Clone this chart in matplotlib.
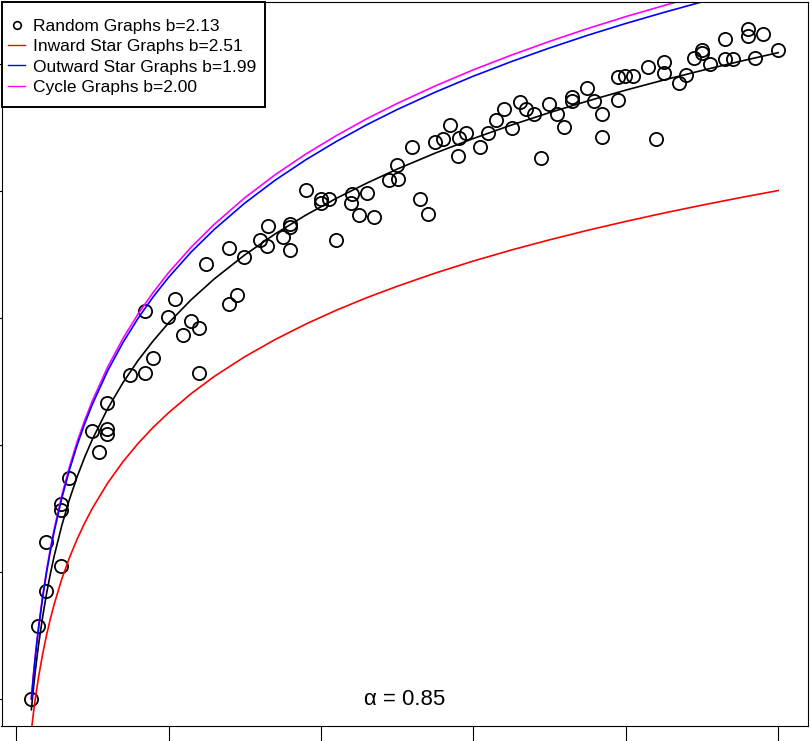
import numpy as np
import matplotlib
matplotlib.use('Agg')
import matplotlib.pyplot as plt
from matplotlib.lines import Line2D
from matplotlib.patches import Rectangle

plt.rcParams['font.family'] = ['Liberation Sans', 'DejaVu Sans']

rand_x = [2.0, 2.88, 3.93, 3.93, 5.9, 5.9, 5.9, 6.95, 10.88, 9.96,
          11.93, 11.93, 11.93, 14.94, 16.91, 23.98, 17.96, 21.89, 23.98, 22.94,
          19.92, 16.91, 20.84, 27.92, 28.96, 24.9, 29.88, 27.92, 32.9, 31.98,
          33.03, 35.0, 35.91, 35.91, 35.91, 38.01, 39.97, 41.02, 39.97, 41.94,
          44.04, 43.91, 46.0, 44.95, 46.92, 48.89, 50.07, 49.93, 51.9, 52.95,
          54.0, 54.91, 55.96, 56.88, 58.06, 57.93, 58.98, 60.94, 61.99, 62.91,
          63.96, 65.01, 66.06, 66.97, 68.02, 68.94, 69.99, 71.04, 71.95, 73.0,
          73.0, 74.97, 75.88, 76.93, 76.93, 79.03, 79.03, 79.95, 81.0, 82.96,
          84.01, 85.06, 85.06, 87.02, 87.94, 88.99, 90.04, 90.04, 91.09, 93.05,
          93.05, 94.1, 96.07, 96.07, 96.99, 98.03, 100.0]
rand_y = [1.0, 1.58, 1.85, 2.24, 2.05, 2.49, 2.54, 2.74, 2.95, 3.11,
          3.13, 3.09, 3.33, 3.55, 3.57, 3.57, 3.69, 3.87, 3.92, 3.98,
          4.01, 4.06, 4.15, 4.11, 4.18, 4.43, 4.48, 4.55, 4.57, 4.62,
          4.73, 4.64, 4.74, 4.72, 4.54, 5.01, 4.94, 4.94, 4.91, 4.62,
          4.98, 4.91, 4.99, 4.81, 4.8, 5.09, 5.1, 5.21, 5.35, 4.94,
          4.82, 5.39, 5.41, 5.52, 5.42, 5.28, 5.46, 5.35, 5.46, 5.56,
          5.65, 5.5, 5.7, 5.65, 5.61, 5.26, 5.69, 5.61, 5.51, 5.74,
          5.71, 5.81, 5.71, 5.61, 5.43, 5.72, 5.9, 5.91, 5.91, 5.98,
          5.41, 6.02, 5.93, 5.85, 5.92, 6.05, 6.11, 6.09, 6.0, 6.2,
          6.04, 6.04, 6.28, 6.22, 6.05, 6.24, 6.11]

# fitted curves, shared x positions
curve_x = [2, 2.25, 2.5, 2.75, 3, 3.5, 4, 4.5, 5, 6, 7, 8, 9, 10, 12, 14, 16, 18, 20,
           23, 26, 30, 34, 38, 42, 46, 50, 55, 60, 65, 70, 75, 80, 85, 90, 95, 100]
random_fit = [0.917, 1.073, 1.212, 1.338, 1.453, 1.657, 1.834, 1.990, 2.129, 2.370, 2.574,
              2.751, 2.907, 3.046, 3.287, 3.491, 3.668, 3.823, 3.963, 4.148, 4.310, 4.499,
              4.665, 4.812, 4.944, 5.064, 5.175, 5.301, 5.416, 5.522, 5.620, 5.711, 5.797,
              5.877, 5.952, 6.024, 6.092]
inward_fit = [0.753, 0.881, 0.996, 1.100, 1.194, 1.362, 1.507, 1.635, 1.749, 1.948, 2.115,
              2.260, 2.388, 2.503, 2.701, 2.869, 3.014, 3.142, 3.256, 3.408, 3.542, 3.697,
              3.833, 3.954, 4.063, 4.162, 4.252, 4.356, 4.451, 4.538, 4.618, 4.693, 4.763,
              4.829, 4.891, 4.950, 5.006]
outward_fit = [1.000, 1.170, 1.322, 1.459, 1.585, 1.807, 2.000, 2.170, 2.322, 2.585, 2.807,
               3.000, 3.170, 3.322, 3.585, 3.807, 4.000, 4.170, 4.322, 4.524, 4.700, 4.907,
               5.088, 5.248, 5.392, 5.524, 5.644, 5.781, 5.907, 6.022, 6.129, 6.229, 6.322,
               6.409, 6.492, 6.570, 6.644]
cycle_fit = [1.008, 1.180, 1.333, 1.471, 1.598, 1.822, 2.017, 2.188, 2.342, 2.607, 2.831,
             3.026, 3.197, 3.350, 3.615, 3.839, 4.034, 4.205, 4.359, 4.562, 4.740, 4.949,
             5.131, 5.293, 5.438, 5.571, 5.692, 5.830, 5.957, 6.073, 6.181, 6.282, 6.376,
             6.463, 6.547, 6.626, 6.700]

labels = ['Random Graphs b=2.13', 'Inward Star Graphs b=2.51',
          'Outward Star Graphs b=1.99', 'Cycle Graphs b=2.00']
alpha_label = '\u03b1 = 0.85'

W, H = 810, 741
fig = plt.figure(figsize=(W / 100, H / 100), dpi=100)
ax = fig.add_axes([1.5 / W, 15 / H, 806.5 / W, 724 / H])

ax.plot(rand_x, rand_y, ls='none', marker='o', mfc='none', mec='black', ms=9.5, mew=1.3)
ax.plot(curve_x, random_fit, color='black', lw=1.2)
ax.plot(curve_x, inward_fit, color='#ff0000', lw=1.2)
ax.plot(curve_x, cycle_fit, color='#ff00ff', lw=1.2)
ax.plot(curve_x, outward_fit, color='#0000ff', lw=1.2)

# R style 4% padding around the points
xr = max(rand_x) - min(rand_x)
yr = max(rand_y) - min(rand_y)
ax.set_xlim(min(rand_x) - 0.04 * xr, max(rand_x) + 0.04 * xr)
ax.set_ylim(min(rand_y) - 0.04 * yr, max(rand_y) + 0.04 * yr)

ax.set_xticks([0, 20, 40, 60, 80, 100])
ax.set_yticks([1, 2, 3, 4, 5, 6])
ax.tick_params(direction='out', length=11, width=0.8, labelbottom=False, labelleft=False)
for s in ax.spines.values():
    s.set_linewidth(0.8)

ax.text(51, 1.0, alpha_label, ha='center', va='center', fontsize=16)

# legend box drawn by hand (R style padding)
box = Rectangle((2 / W, 1 - 107 / H), 263 / W, 105 / H, transform=fig.transFigure,
                facecolor='white', edgecolor='black', lw=1.4, zorder=4, clip_on=False)
ax.add_patch(box)
handles = [Line2D([], [], ls='none', marker='o', mfc='none', mec='black', ms=5.5, mew=1.2),
           Line2D([], [], color='#ff0000', lw=1),
           Line2D([], [], color='#0000ff', lw=1),
           Line2D([], [], color='#ff00ff', lw=1)]
leg = ax.legend(handles, labels, loc='upper left', bbox_to_anchor=(8 / W, 1 - 19 / H),
                bbox_transform=fig.transFigure, borderaxespad=0, borderpad=0,
                fontsize=12.5, frameon=False, handlelength=1.0, handletextpad=0.45,
                labelspacing=0.29)
leg.set_zorder(5)

plt.savefig('out.png', dpi=100)
